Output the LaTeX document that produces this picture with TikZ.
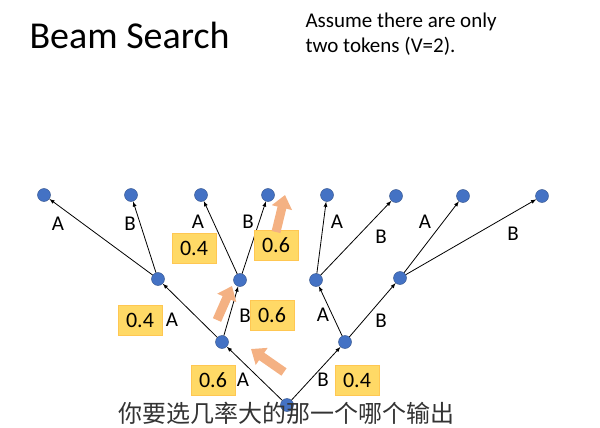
\documentclass[tikz,border=0pt]{standalone}
\usepackage{fontspec}
\setmainfont{Carlito}
\newfontfamily\cjk{Noto Sans CJK SC}
\usetikzlibrary{arrows.meta}
\definecolor{dotc}{HTML}{4472C4}
\definecolor{boxc}{HTML}{FFD966}
\definecolor{arc}{HTML}{F4B183}
\begin{document}
\begin{tikzpicture}[x=1pt,y=-1pt,
  dot/.style={circle,fill=dotc,inner sep=0pt,minimum size=13pt,draw=dotc!70!black,line width=0.4pt},
  edge/.style={-latex,thick,black},
  lab/.style={font=\fontsize{21}{21}\selectfont},
  prob/.style={fill=boxc,draw=boxc!80!orange,minimum width=44pt,minimum height=30pt,font=\fontsize{22}{22}\selectfont},
  big/.style={-{Triangle[length=13pt,width=20pt]},line width=9pt,draw=arc}]
\useasboundingbox (0,0) rectangle (600,428);
\node[anchor=west,font=\fontsize{38}{38}\selectfont] (title) at (26,35) {Beam Search};
\node[anchor=north west,align=left,font=\fontsize{21}{25}\selectfont] (note) at (302,9) {Assume there are only\\two tokens (V=2).};
\node[dot] (r) at (287,405) {};
\node[dot] (a) at (222,342) {}; \node[dot] (b) at (345,342) {};
\node[dot] (aa) at (158,279) {}; \node[dot] (ab) at (240,280) {};
\node[dot] (ba) at (316,280) {}; \node[dot] (bb) at (400,278) {};
\node[dot] (aaa) at (44,195) {}; \node[dot] (aab) at (131,195) {};
\node[dot] (aba) at (201,195) {}; \node[dot] (abb) at (268,195) {};
\node[dot] (baa) at (327,195) {}; \node[dot] (bab) at (396,196) {};
\node[dot] (bba) at (463,196) {}; \node[dot] (bbb) at (542,196) {};
\foreach \p/\c in {r/a,r/b,a/aa,a/ab,b/ba,b/bb,aa/aaa,aa/aab,ab/aba,ab/abb,ba/baa,ba/bab,bb/bba,bb/bbb}
  \draw[edge] (\p) -- (\c);
\node[lab] (l1) at (58,224) {A}; \node[lab] (l2) at (130,224) {B};
\node[lab] (l3) at (198,222) {A}; \node[lab] (l4) at (248,222) {B};
\node[lab] (l5) at (337,222) {A}; \node[lab] (l6) at (381,237) {B};
\node[lab] (l7) at (425,222) {A}; \node[lab] (l8) at (513,234) {B};
\node[lab] (l9) at (172,320) {A}; \node[lab] (l10) at (245,316) {B};
\node[lab] (l11) at (323,315) {A}; \node[lab] (l12) at (381,321) {B};
\node[lab] (l13) at (243,380) {A}; \node[lab] (l14) at (323,380) {B};
\node[prob] (p1) at (194,248) {0.4}; \node[prob] (p2) at (276,245) {0.6};
\node[prob] (p3) at (140,320) {0.4}; \node[prob] (p4) at (272,315) {0.6};
\node[prob] (p5) at (213,380) {0.6}; \node[prob] (p6) at (357,380) {0.4};
\coordinate (s1) at (276,232); \coordinate (e1) at (285,195);
\coordinate (s2) at (217,320); \coordinate (e2) at (232,286);
\coordinate (s3) at (284,372); \coordinate (e3) at (251,349);
\draw[big] (s1) -- (e1); \draw[big] (s2) -- (e2); \draw[big] (s3) -- (e3);
\node[font=\cjk\fontsize{24}{24}\selectfont,text=black!80] (sub) at (286,413) {你要选几率大的那一个哪个输出};
\end{tikzpicture}
\end{document}
